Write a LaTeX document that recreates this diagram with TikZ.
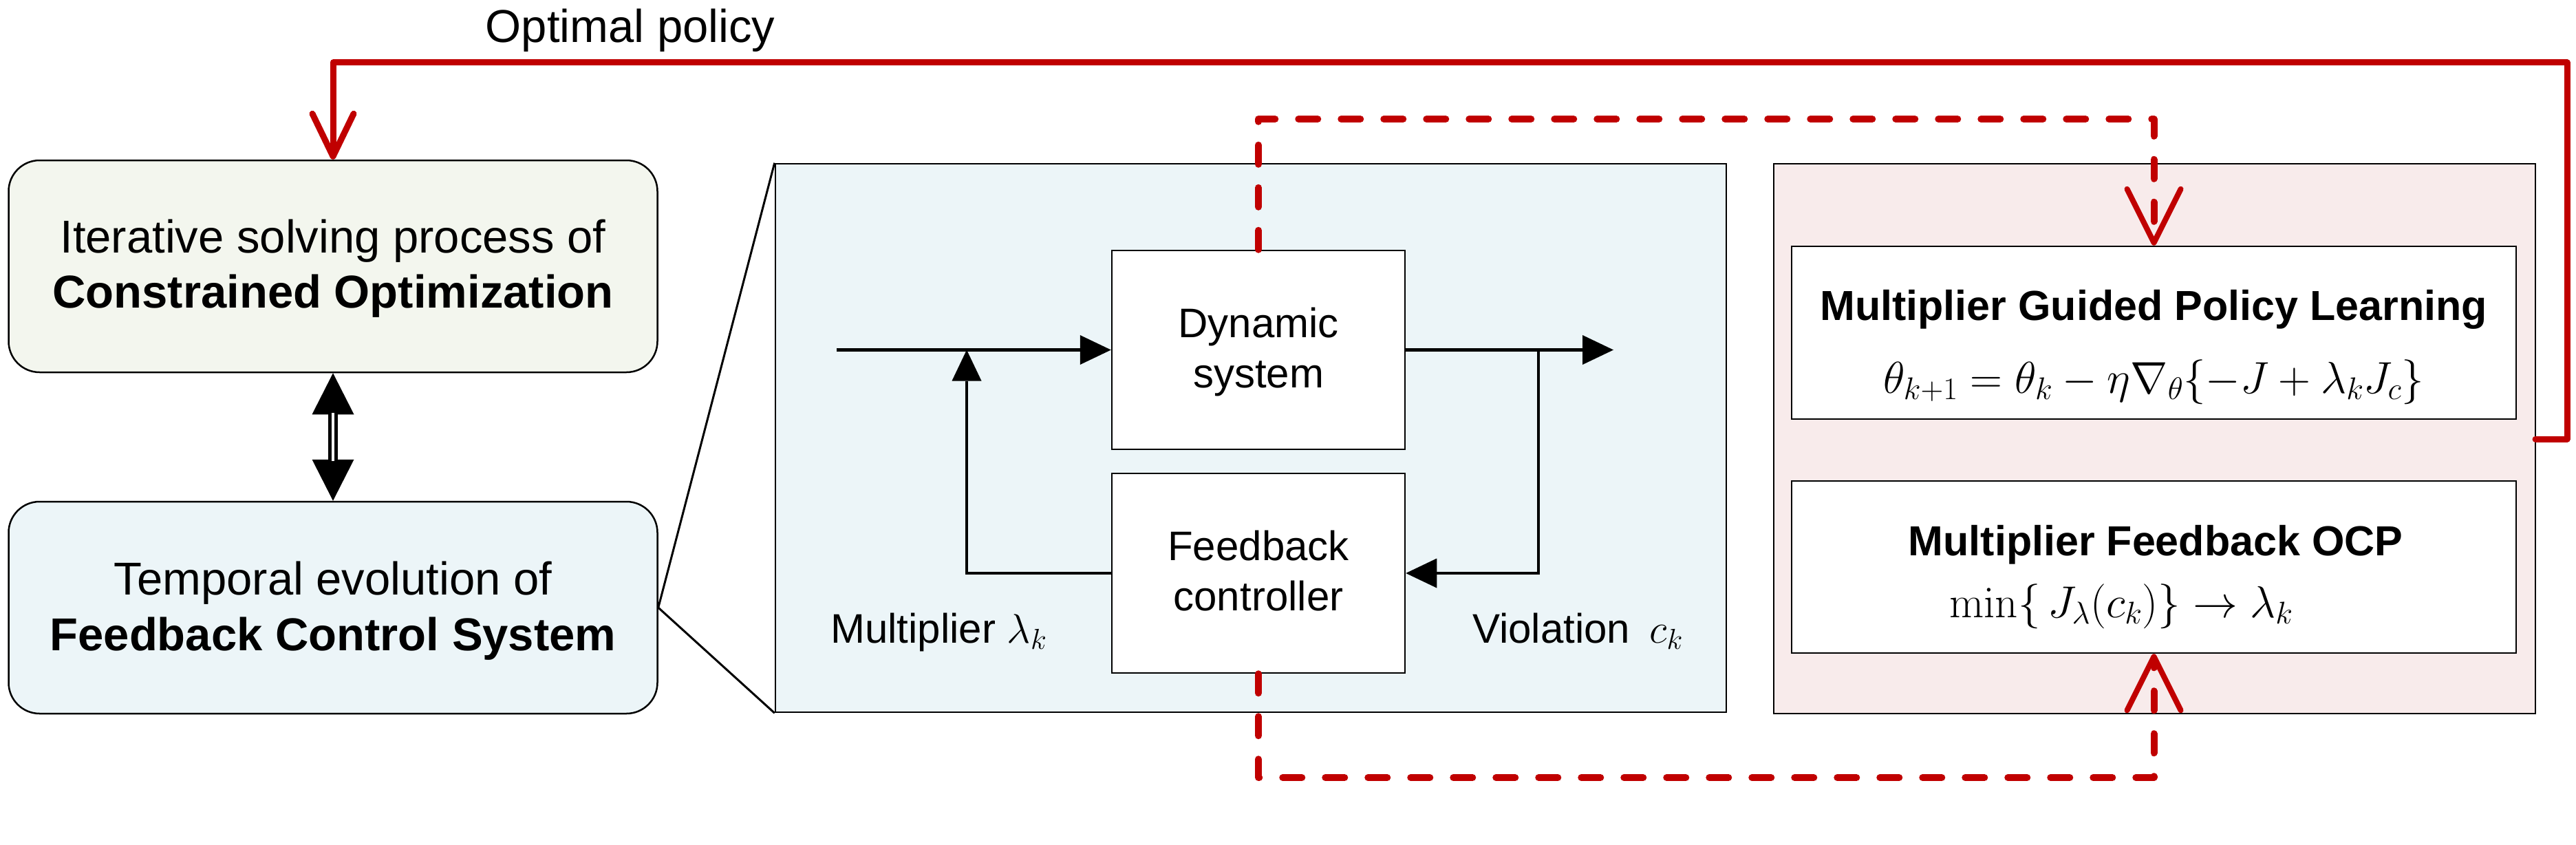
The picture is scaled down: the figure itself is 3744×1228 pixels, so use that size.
\RequirePackage{fix-cm}
\documentclass[tikz,border=0pt]{standalone}
\usepackage{amsmath}
\usepackage[no-math]{fontspec}
\setmainfont{Liberation Sans}
\usetikzlibrary{arrows.meta}
\definecolor{redline}{HTML}{C00000}
\definecolor{fillA}{HTML}{F3F6EE}
\definecolor{fillB}{HTML}{ECF5F8}
\definecolor{fillQ}{HTML}{F8EBEB}
\tikzset{
  roundbox/.style={draw=black, line width=2.5pt, rounded corners=45pt, minimum width=943pt, minimum height=308pt, inner sep=0pt},
  panel/.style={draw=black, line width=2.5pt, inner sep=0pt},
  blockbox/.style={draw=black, fill=white, line width=2.5pt, inner sep=0pt},
  txtL/.style={anchor=base, inner sep=0pt, font=\fontsize{67}{80}\selectfont},
  txtM/.style={anchor=base, inner sep=0pt, font=\fontsize{60}{72}\selectfont},
  txtT/.style={anchor=base, inner sep=0pt, font=\fontsize{61}{72}\selectfont\bfseries},
  txtF/.style={anchor=base, inner sep=0pt, font=\fontsize{65}{78}\selectfont},
  blk/.style={draw=black, line width=4.5pt, -{Triangle[length=45pt,width=43pt,line width=0pt]}},
  thinline/.style={draw=black, line width=3pt},
  redsolid/.style={draw=redline, line width=9pt, line join=round, line cap=round,
     -{Straight Barb[length=62pt,width=60pt,line width=9pt,round]}},
  reddash/.style={draw=redline, line width=10pt, line join=round, line cap=round,
     dash pattern=on 28pt off 34pt,
     -{Straight Barb[length=78pt,width=78pt,line width=8pt,round]}},
}
\begin{document}
\begin{tikzpicture}[x=1pt,y=-1pt]
\useasboundingbox (0,0) rectangle (3744,1228);
\fill[white] (0,0) rectangle (3744,1228);

% left column
\node[roundbox, fill=fillA] (boxA) at (484,387) {};
\node[roundbox, fill=fillB] (boxB) at (484,883) {};
\node[txtL] (tA1) at (484,367) {Iterative solving process of};
\node[txtL, font=\fontsize{67}{80}\selectfont\bfseries] (tA2) at (484,447) {Constrained Optimization};
\node[txtL] (tB1) at (484,864) {Temporal evolution of};
\node[txtL, font=\fontsize{67}{80}\selectfont\bfseries] (tB2) at (484,945) {Feedback Control System};

% double arrow
\draw[line width=14pt, {Triangle[length=60pt,width=61pt,line width=0pt]}-{Triangle[length=60pt,width=61pt,line width=0pt]}] (boxA.south) -- (boxB.north);
\draw[white, line width=4pt, shorten <=58pt, shorten >=58pt] (boxA.south) -- (boxB.north);

% middle panel
\node[panel, fill=fillB, minimum width=1382pt, minimum height=797pt] (panelP) at (1818,636.5) {};
\draw[thinline] (boxB.east) -- (panelP.north west);
\draw[thinline] (boxB.east) -- (panelP.south west);

\node[blockbox, minimum width=426pt, minimum height=289pt] (dyn) at (1829,508.5) {};
\node[blockbox, minimum width=426pt, minimum height=290pt] (fb) at (1829,833) {};
\node[txtM] (tD1) at (1829,490) {Dynamic};
\node[txtM] (tD2) at (1829,563) {system};
\node[txtM] (tF1) at (1829,814) {Feedback};
\node[txtM] (tF2) at (1829,887) {controller};

\coordinate (inp) at (1216,508.5);
\coordinate (outp) at (2345,508.5);
\coordinate (brR) at (2236,508.5);
\coordinate (brL) at (1405,508.5);
\draw[blk] (inp) -- (dyn.west);
\draw[blk] (dyn.east) -- (outp);
\draw[blk] (brR) |- (fb.east);
\draw[blk] (fb.west) -| (brL);

\node[txtM, anchor=base west] (mult) at (1207,934) {Multiplier $\lambda_k$};
\node[txtM, anchor=base west] (viol) at (2140,934) {Violation\hspace{28pt}$c_k$};

% right panel
\node[panel, fill=fillQ, minimum width=1107pt, minimum height=799pt] (panelQ) at (3131.5,637.5) {};
\node[blockbox, minimum width=1053pt, minimum height=251pt] (boxT) at (3130.5,483.5) {};
\node[blockbox, minimum width=1053pt, minimum height=250pt] (boxU) at (3130.5,824) {};
\node[txtT] (tT1) at (3130,465) {Multiplier Guided Policy Learning};
\node[txtF] (tT2) at (3130,571) {$\theta_{k+1}=\theta_k-\eta\nabla_\theta\{-J+\lambda_kJ_c\}$};
\node[txtT] (tU1) at (3133,807) {Multiplier Feedback OCP};
\node[txtF] (tU2) at (3083,897) {$\min\{\,J_\lambda(c_k)\}\rightarrow\lambda_k$};

% red solid feedback
\coordinate (rs) at (3685,638);
\coordinate (rc1) at (3731,638);
\coordinate (rc2) at (3731,91);
\coordinate (rc3) at (484,91);
\draw[redsolid] (rs) -- (rc1) -- (rc2) -- (rc3) -- (boxA.north);
\node[txtL] (opt) at (916,62) {Optimal policy};

% red dashed
\coordinate (d1) at (1829,173);
\coordinate (d2) at (3130.5,173);
\draw[reddash] (dyn.north) -- (d1) -- (d2) -- (boxT.north);
\coordinate (d3) at (1829,1130);
\coordinate (d4) at (3130.5,1130);
\draw[reddash] (fb.south) -- (d3) -- (d4) -- (boxU.south);
\end{tikzpicture}
\end{document}
